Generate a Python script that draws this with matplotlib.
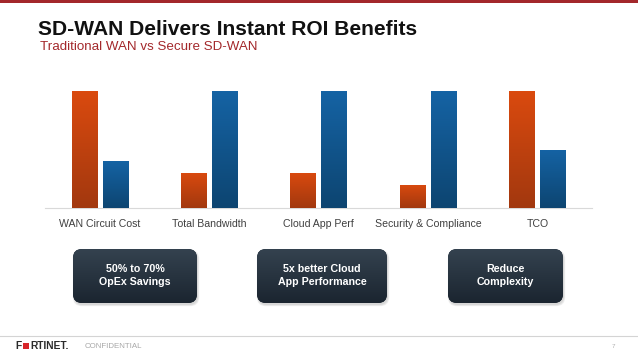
import numpy as np
import matplotlib
matplotlib.use("Agg")
import matplotlib.pyplot as plt
from matplotlib.colors import LinearSegmentedColormap
from matplotlib.patches import FancyBboxPatch, Rectangle

plt.rcParams["font.family"] = ["Liberation Sans", "DejaVu Sans"]

# chart data (relative scale, tallest bar = 100)
categories = ["WAN Circuit Cost", "Total Bandwidth", "Cloud App Perf",
              "Security & Compliance", "TCO"]
traditional_wan = [100, 30, 30, 20, 100]
secure_sdwan = [40, 100, 100, 100, 50]

title = "SD-WAN Delivers Instant ROI Benefits"
subtitle = "Traditional WAN vs Secure SD-WAN"
callouts = ["50% to 70%\nOpEx Savings",
            "5x better Cloud\nApp Performance",
            "Reduce\nComplexity"]

W, H = 638, 359
fig = plt.figure(figsize=(W / 100, H / 100), dpi=100)

# background layer in pixel coordinates
bg = fig.add_axes([0, 0, 1, 1])
bg.set_xlim(0, W)
bg.set_ylim(H, 0)
bg.axis("off")

bg.add_patch(Rectangle((0, 0), W, 3, color="#a3282b", lw=0))
bg.text(38, 35, title, fontsize=15.1, fontweight="bold", color="#111111",
        va="baseline", ha="left")
bg.text(39.5, 50.5, subtitle, fontsize=9.6, color="#a3282b",
        va="baseline", ha="left")

# footer
bg.plot([0, W], [335.5, 335.5], color="#d4d4d4", lw=0.8)
bg.text(15, 346, "F", fontsize=7.4, fontweight="bold", color="#2b2b2b",
        va="center", ha="left")
# red grid "O" of the logo
for cx in (22.5, 26.2):
    for cy in (342.8, 346.3):
        bg.add_patch(Rectangle((cx, cy), 3.0, 2.9, color="#d8262b", lw=0))
bg.text(30.5, 346, "RTINET.", fontsize=7.4, fontweight="bold",
        color="#2b2b2b", va="center", ha="left")
bg.text(85, 346, "CONFIDENTIAL", fontsize=5.7, color="#a8a8a8",
        va="center", ha="left")
bg.text(613, 346, "7", fontsize=4.5, color="#b0b0b0", va="center", ha="center")

# callout boxes
box_cmap = LinearSegmentedColormap.from_list("box", ["#34424f", "#1b2530"])
boxes = [(73, 249, 124, 54), (257, 249, 130, 54), (448, 249, 115, 54)]
grad = np.linspace(0, 1, 100).reshape(-1, 1)
for (x0, y0, bw, bh), txt in zip(boxes, callouts):
    for k, a in enumerate([0.05, 0.05, 0.06]):
        sh = FancyBboxPatch((x0 + 1 - k * 0.6, y0 + 2 - k * 0.6),
                            bw + k * 1.2, bh + k * 1.2,
                            boxstyle="round,pad=0,rounding_size=9",
                            fc="black", ec="none", alpha=a, zorder=1)
        bg.add_patch(sh)
    box = FancyBboxPatch((x0, y0), bw, bh,
                         boxstyle="round,pad=0,rounding_size=9",
                         fc="#26323e", ec="none", zorder=2)
    bg.add_patch(box)
    im = bg.imshow(grad, extent=[x0, x0 + bw, y0 + bh, y0], cmap=box_cmap,
                   aspect="auto", zorder=3)
    im.set_clip_path(box)
    bg.text(x0 + bw / 2, y0 + bh / 2 - 0.5, txt, fontsize=7.7,
            fontweight="bold", color="white", ha="center", va="center",
            linespacing=1.45, zorder=4)
bg.set_xlim(0, W)
bg.set_ylim(H, 0)

# bar chart
ax = fig.add_axes([45 / W, (H - 208) / H, 547 / W, 117 / H])
x = np.arange(len(categories))
bw_ = 0.23
off = 0.142
orange_bars = ax.bar(x - off, traditional_wan, bw_, color="#c5410f", lw=0)
blue_bars = ax.bar(x + off, secure_sdwan, bw_, color="#115690", lw=0)

orange_cmap = LinearSegmentedColormap.from_list("o", ["#da4a0e", "#a2380f"])
blue_cmap = LinearSegmentedColormap.from_list("b", ["#1563a4", "#0d4571"])
for bars, cm in [(orange_bars, orange_cmap), (blue_bars, blue_cmap)]:
    for p in bars:
        bx, by = p.get_x(), p.get_y()
        w, h = p.get_width(), p.get_height()
        im = ax.imshow(grad, extent=[bx, bx + w, by, by + h], cmap=cm,
                       aspect="auto", origin="upper", zorder=3)
        im.set_clip_path(p)

ax.set_xlim(-0.5, len(categories) - 0.5)
ax.set_ylim(0, 100)
ax.set_xticks(x)
ax.set_xticklabels(categories, fontsize=7.6, color="#404040")
ax.tick_params(axis="x", length=0, pad=8)
ax.set_yticks([])
for s in ["top", "left", "right"]:
    ax.spines[s].set_visible(False)
ax.spines["bottom"].set_color("#d9d9d9")
ax.spines["bottom"].set_linewidth(0.8)
ax.patch.set_alpha(0)

fig.savefig("out.png", dpi=100)
